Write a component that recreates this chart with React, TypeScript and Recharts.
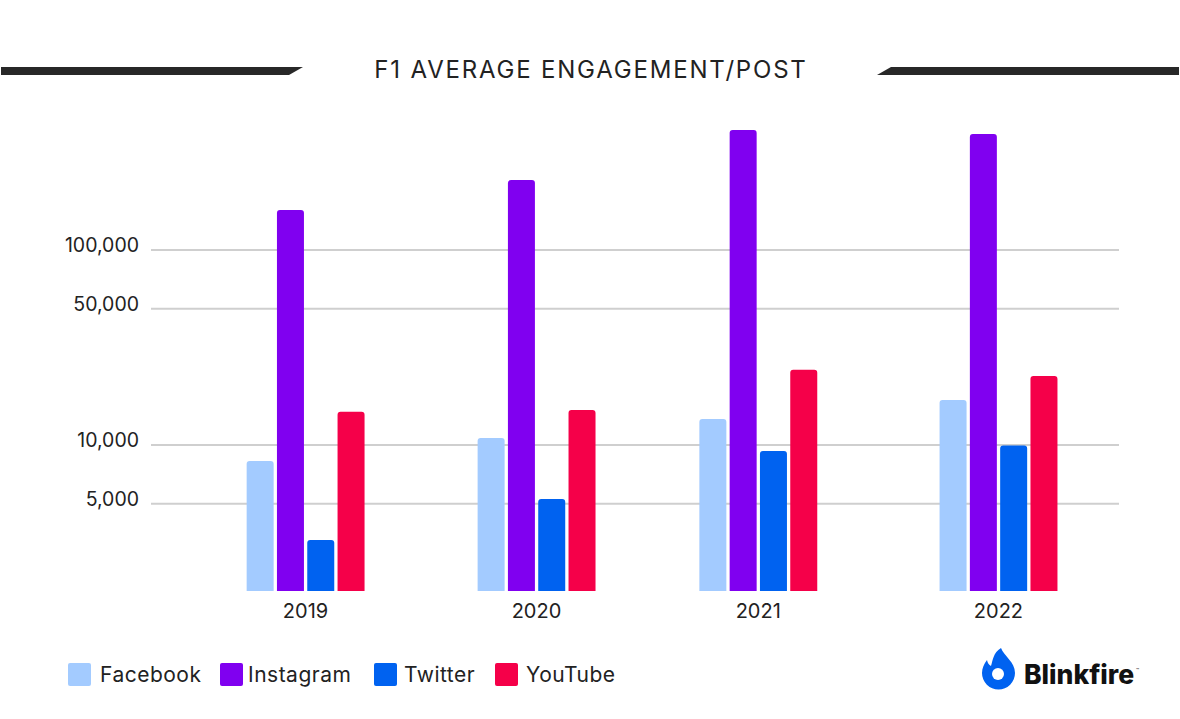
import React from 'react';
import { BarChart, Bar, XAxis, YAxis, CartesianGrid, Legend } from 'recharts';

const years = [2019, 2020, 2021, 2022];
const facebook = [8280, 10860, 13600, 17000];
const instagram = [160000, 228000, 412000, 393000];
const twitter = [3260, 5290, 9320, 9950];
const youtube = [14800, 15100, 24300, 22600];
const yTicks = [5000, 10000, 50000, 100000];

// the groups in the original are not quite evenly spaced, so nudge them along the year axis
const yearNudge = [0, 0, -0.04, 0];

const rows = years.map((year, i) => ({
  slot: year + yearNudge[i],
  Facebook: facebook[i],
  Instagram: instagram[i],
  Twitter: twitter[i],
  YouTube: youtube[i],
}));
const xTicks = rows.map((r) => r.slot);

const FONT = 'Inter, sans-serif';
const INK = '#222222';

const YTick = ({ x, y, payload }: any) => (
  <text x={x} y={y - 3} textAnchor="end" dominantBaseline="middle" fontFamily={FONT} fontSize={19.5} fill={INK}>
    {Number(payload.value).toLocaleString('en-US')}
  </text>
);

const legendWidths = [152, 154, 121, 130];
const legendGaps = [9, 5, 7, 8];

const LegendRow = ({ payload }: any) => (
  <div style={{ display: 'flex', fontFamily: FONT, fontSize: 21, letterSpacing: 0.5, color: INK }}>
    {(payload || []).map((item: any, i: number) => (
      <div key={item.value} style={{ width: legendWidths[i], display: 'flex', alignItems: 'center' }}>
        <span style={{ width: 23, height: 23, borderRadius: 2, background: item.color, marginRight: legendGaps[i] }} />
        <span>{item.value}</span>
      </div>
    ))}
  </div>
);

export default function App() {
  return (
    <div style={{ position: 'absolute', left: 0, top: 0, width: 1180, height: 719, background: '#fff' }}>
      <BarChart
        width={1180}
        height={719}
        data={rows}
        margin={{ top: 130, right: 61, bottom: 73, left: 0 }}
        barSize={27}
        barGap={3.3}
      >
        <CartesianGrid vertical={false} stroke="#cfcfcf" strokeWidth={2} horizontalValues={yTicks} />
        <XAxis
          dataKey="slot"
          type="number"
          domain={[2018.331, 2022.522]}
          ticks={xTicks}
          tickFormatter={(v: number) => String(Math.round(v))}
          axisLine={false}
          tickLine={false}
          tickSize={0}
          tickMargin={13}
          tick={{ fontFamily: FONT, fontSize: 20, fill: INK }}
          allowDataOverflow
        />
        <YAxis
          scale="log"
          domain={[1783, 412000]}
          ticks={yTicks}
          width={151}
          axisLine={false}
          tickLine={false}
          tickSize={0}
          tickMargin={12}
          tick={<YTick />}
          allowDataOverflow
        />
        <Legend
          content={<LegendRow />}
          wrapperStyle={{ position: 'absolute', left: 68, top: 662, width: 640, bottom: 'auto' }}
        />
        <Bar dataKey="Facebook" fill="#a3cbff" radius={[3, 3, 0, 0]} isAnimationActive={false} />
        <Bar dataKey="Instagram" fill="#8000f0" radius={[3, 3, 0, 0]} isAnimationActive={false} />
        <Bar dataKey="Twitter" fill="#0062f0" radius={[3, 3, 0, 0]} isAnimationActive={false} />
        <Bar dataKey="YouTube" fill="#f50049" radius={[3, 3, 0, 0]} isAnimationActive={false} />
      </BarChart>

      {/* title band and logo sit on top of the chart */}
      <svg width={1180} height={719} style={{ position: 'absolute', left: 0, top: 0, pointerEvents: 'none' }}>
        <polygon points="1,67 303,67 289,75 1,75" fill="#282828" />
        <polygon points="891,67 1179,67 1179,75 877,75" fill="#282828" />
        <text x={591} y={78} textAnchor="middle" fontFamily={FONT} fontSize={24} letterSpacing={1.8} fill={INK}>
          F1 AVERAGE ENGAGEMENT/POST
        </text>
        <path
          d="M1001 648 C1004 656 1015 662 1015 673 A16.5 16.5 0 0 1 982 673 C982 668 984 664 987 660 C987.5 663 989 665 991 666 C993 660 993 653 1001 648 Z"
          fill="#0062f0"
        />
        <circle cx={998} cy={674} r={6} fill="#fff" />
        <text x={1024} y={684} fontFamily={FONT} fontWeight={800} fontSize={26.5} fill="#111">
          Blinkfire
        </text>
        <text x={1136} y={672} fontFamily={FONT} fontSize={5} fill="#111">
          ™
        </text>
      </svg>
    </div>
  );
}
